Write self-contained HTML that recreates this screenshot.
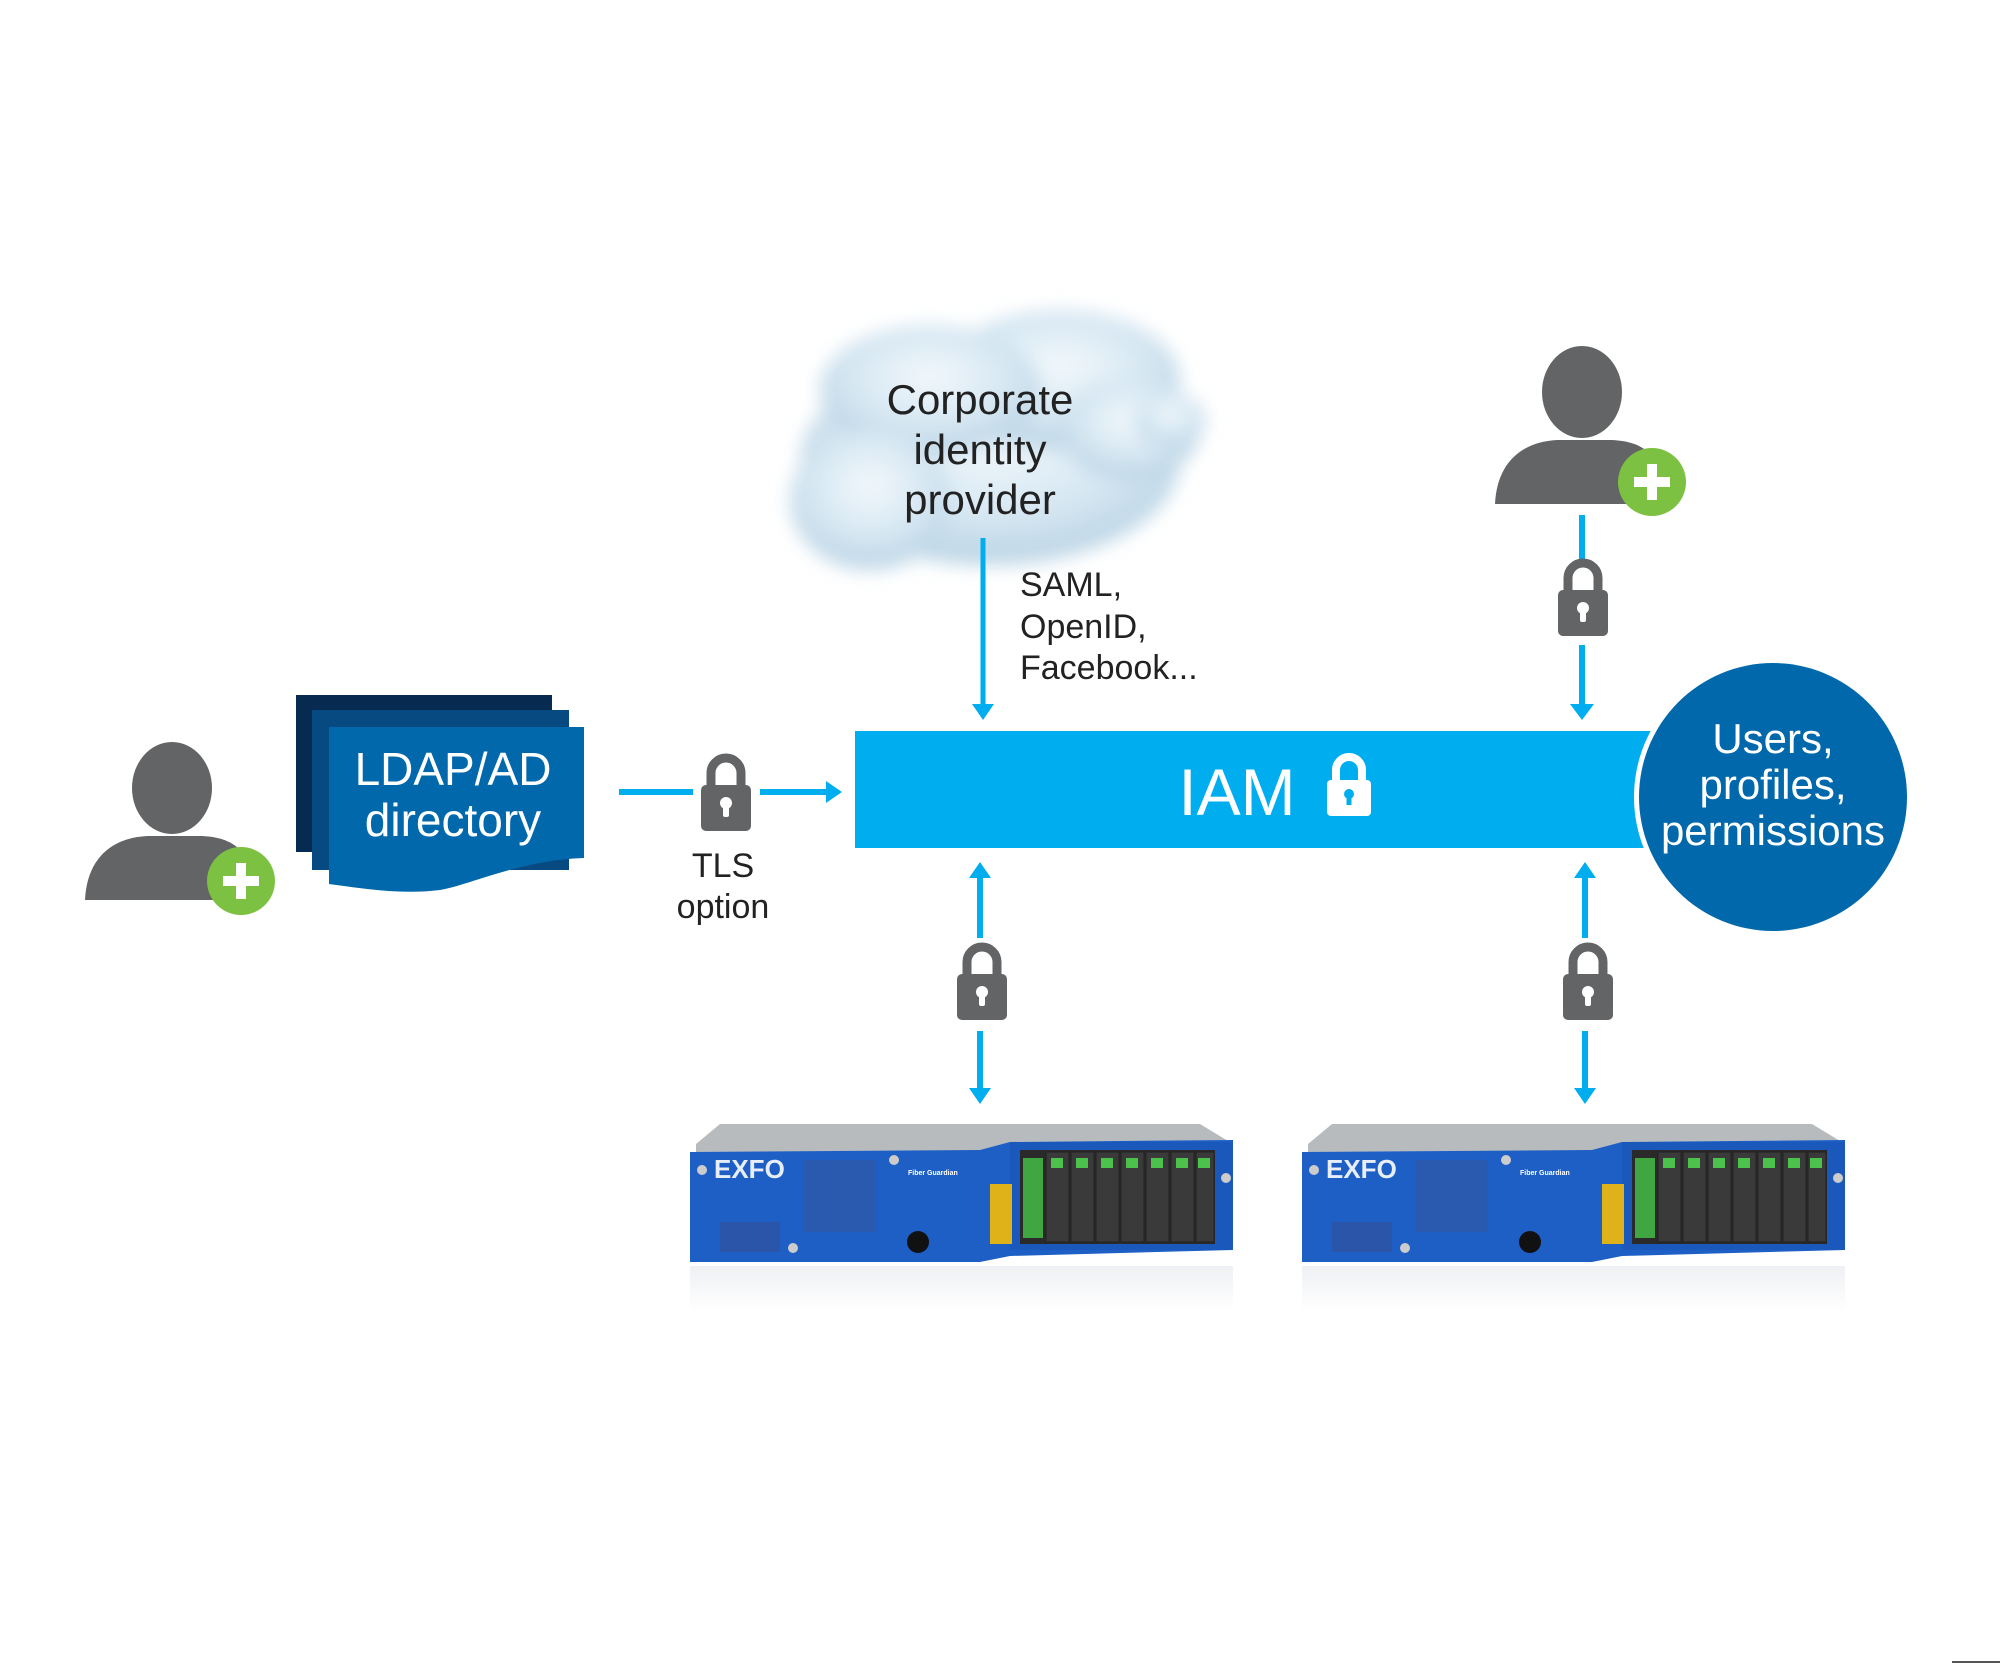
<!DOCTYPE html>
<html><head><meta charset="utf-8"><style>
html,body{margin:0;padding:0;background:#fff;width:2000px;height:1667px;overflow:hidden}
svg{display:block}
text{font-family:"Liberation Sans",sans-serif}
</style></head><body>
<svg width="2000" height="1667" viewBox="0 0 2000 1667" xmlns="http://www.w3.org/2000/svg">
<defs>
<filter id="blur" x="-20%" y="-20%" width="140%" height="140%"><feGaussianBlur stdDeviation="9"/></filter>
<radialGradient id="cg" cx="50%" cy="40%" r="60%"><stop offset="0" stop-color="#f2f8fc"/><stop offset="0.6" stop-color="#d6e7f2"/><stop offset="1" stop-color="#b9d3e4"/></radialGradient>
<linearGradient id="refl" x1="0" y1="0" x2="0" y2="1"><stop offset="0" stop-color="#eef0f3"/><stop offset="1" stop-color="#ffffff"/></linearGradient>
<g id="lock">
<path d="M-15,0 v-12 a15,15 0 0 1 30,0 v12" fill="none" stroke="#636466" stroke-width="9"/>
<rect x="-25" y="0" width="50" height="46" rx="5" fill="#636466"/>
<circle cx="0" cy="18" r="6" fill="#fff"/><rect x="-3" y="18" width="6" height="14" rx="2" fill="#fff"/>
</g>
<g id="user">
<ellipse cx="0" cy="0" rx="40" ry="46" fill="#636466"/>
<path d="M-87,112 C-85,70 -60,50 -25,48 L30,48 C70,50 80,70 83,112 Z" fill="#636466"/>
</g>
<g id="plus">
<circle r="34" fill="#7dc142"/>
<rect x="-18" y="-5" width="36" height="10" fill="#fff"/><rect x="-5" y="-18" width="10" height="36" fill="#fff"/>
</g>
<g id="dev">
<rect x="0" y="146" width="543" height="45" fill="url(#refl)"/>
<path d="M6,24 L30,4 L510,4 L543,24 L543,36 L6,40 Z" fill="#b8bbbe"/>
<path d="M0,32 L290,30 L320,22 L543,20 L543,130 L320,136 L290,142 L0,142 Z" fill="#1d5fc4"/>
<rect x="320" y="22" width="223" height="108" fill="#1a58bb"/>
<rect x="330" y="30" width="195" height="94" fill="#2a2a2a"/>
<g fill="#3a3a3a" stroke="#222" stroke-width="1">
<rect x="356" y="32" width="23" height="90"/><rect x="381" y="32" width="23" height="90"/><rect x="406" y="32" width="23" height="90"/><rect x="431" y="32" width="23" height="90"/><rect x="456" y="32" width="23" height="90"/><rect x="481" y="32" width="23" height="90"/><rect x="506" y="32" width="18" height="90"/>
</g>
<rect x="333" y="38" width="20" height="80" fill="#3fa642"/>
<g fill="#4cc24c"><rect x="361" y="38" width="12" height="10"/><rect x="386" y="38" width="12" height="10"/><rect x="411" y="38" width="12" height="10"/><rect x="436" y="38" width="12" height="10"/><rect x="461" y="38" width="12" height="10"/><rect x="486" y="38" width="12" height="10"/><rect x="508" y="38" width="12" height="10"/></g>
<rect x="300" y="64" width="22" height="60" fill="#e0b21a"/>
<text x="24" y="58" font-size="26" font-weight="bold" fill="#e8eef8">EXFO</text>
<text x="218" y="55" font-size="7" font-weight="bold" fill="#fff">Fiber Guardian</text>
<rect x="114" y="40" width="72" height="72" fill="#2a5ab0"/>
<rect x="30" y="102" width="60" height="30" fill="#2a55a8"/>
<circle cx="228" cy="122" r="11" fill="#111"/>
<circle cx="12" cy="50" r="5" fill="#ccc"/><circle cx="103" cy="128" r="5" fill="#ccc"/><circle cx="204" cy="40" r="5" fill="#ccc"/><circle cx="536" cy="58" r="5" fill="#ccc"/>
</g>
</defs>

<g filter="url(#blur)" fill="url(#cg)">
<ellipse cx="990" cy="460" rx="190" ry="105"/>
<ellipse cx="1060" cy="380" rx="120" ry="70"/>
<ellipse cx="930" cy="390" rx="110" ry="65"/>
<ellipse cx="870" cy="500" rx="80" ry="70"/>
<ellipse cx="1130" cy="430" rx="70" ry="50"/>
<ellipse cx="1170" cy="420" rx="35" ry="28"/>
</g>
<text font-size="42" fill="#222" text-anchor="middle"><tspan x="980" y="414">Corporate</tspan><tspan x="980" y="464">identity</tspan><tspan x="980" y="514">provider</tspan></text>

<line x1="983" y1="538" x2="983" y2="706" stroke="#00aeef" stroke-width="5"/>
<path d="M972,704 L994,704 L983,720 Z" fill="#00aeef"/>
<text font-size="34" fill="#222"><tspan x="1020" y="596">SAML,</tspan><tspan x="1020" y="638">OpenID,</tspan><tspan x="1020" y="679">Facebook...</tspan></text>

<rect x="855" y="731" width="800" height="117" fill="#00aeef"/>
<text x="1237" y="815" font-size="66" fill="#fff" text-anchor="middle">IAM</text>
<path d="M1336,782 v-12 a13,13 0 0 1 26,0 v12" fill="none" stroke="#fff" stroke-width="8"/>
<rect x="1327" y="780" width="44" height="36" rx="4" fill="#fff"/>
<circle cx="1349" cy="794" r="5" fill="#00aeef"/><rect x="1346.5" y="794" width="5" height="11" fill="#00aeef"/>

<circle cx="1773" cy="797" r="139" fill="#fff"/>
<circle cx="1773" cy="797" r="134" fill="#0068ab"/>
<text font-size="42" fill="#fff" text-anchor="middle"><tspan x="1773" y="753">Users,</tspan><tspan x="1773" y="799">profiles,</tspan><tspan x="1773" y="845">permissions</tspan></text>

<use href="#user" x="1582" y="392"/>
<use href="#plus" x="1652" y="482"/>
<line x1="1582" y1="515" x2="1582" y2="560" stroke="#00aeef" stroke-width="6"/>
<use href="#lock" x="1583" y="590"/>
<line x1="1582" y1="645" x2="1582" y2="706" stroke="#00aeef" stroke-width="6"/>
<path d="M1570,704 L1594,704 L1582,720 Z" fill="#00aeef"/>

<use href="#user" x="172" y="788"/>
<use href="#plus" x="241" y="881"/>

<rect x="296" y="695" width="256" height="157" fill="#062a50"/>
<rect x="312" y="710" width="257" height="160" fill="#074a82"/>
<path d="M329,727 L584,727 L584,858 C520,860 470,885 440,890 C400,895 360,888 329,884 Z" fill="#0068ab"/>
<text font-size="46" fill="#fff" text-anchor="middle"><tspan x="453" y="785">LDAP/AD</tspan><tspan x="453" y="836">directory</tspan></text>

<line x1="619" y1="792" x2="693" y2="792" stroke="#00aeef" stroke-width="6"/>
<use href="#lock" x="726" y="785"/>
<line x1="760" y1="792" x2="828" y2="792" stroke="#00aeef" stroke-width="6"/>
<path d="M826,781 L842,792 L826,803 Z" fill="#00aeef"/>
<text font-size="34" fill="#222" text-anchor="middle"><tspan x="723" y="877">TLS</tspan><tspan x="723" y="918">option</tspan></text>

<g stroke="#00aeef" stroke-width="6">
<line x1="980" y1="876" x2="980" y2="938"/><line x1="980" y1="1031" x2="980" y2="1090"/>
<line x1="1585" y1="876" x2="1585" y2="938"/><line x1="1585" y1="1031" x2="1585" y2="1090"/>
</g>
<g fill="#00aeef">
<path d="M969,878 L991,878 L980,862 Z"/><path d="M969,1088 L991,1088 L980,1104 Z"/>
<path d="M1574,878 L1596,878 L1585,862 Z"/><path d="M1574,1088 L1596,1088 L1585,1104 Z"/>
</g>
<use href="#lock" x="982" y="974"/>
<use href="#lock" x="1588" y="974"/>

<use href="#dev" x="690" y="1120"/>
<use href="#dev" x="1302" y="1120"/>

<line x1="1952" y1="1662" x2="2000" y2="1662" stroke="#555" stroke-width="2"/>
</svg>
</body></html>
